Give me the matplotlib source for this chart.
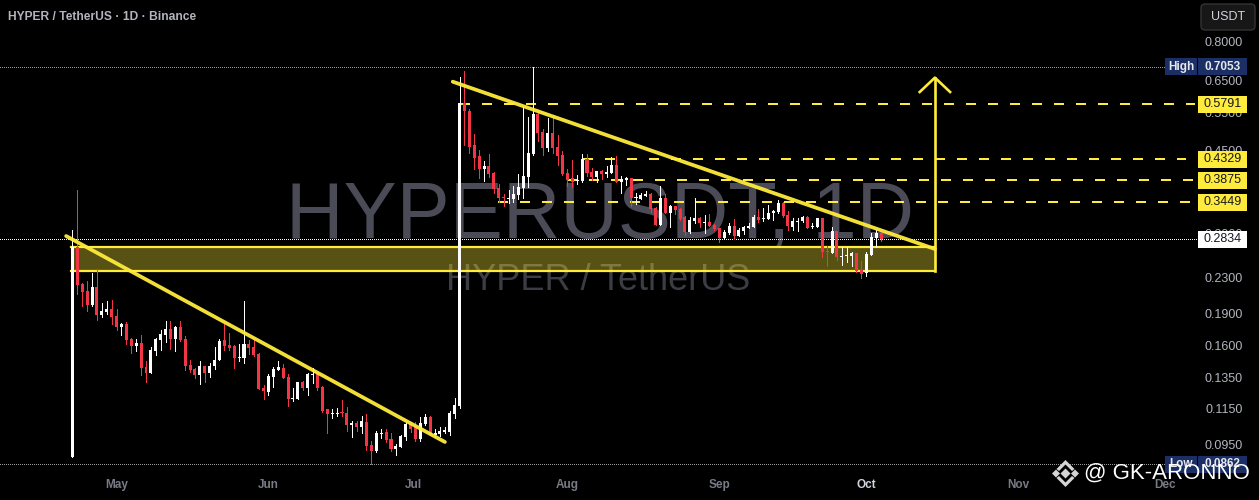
from matplotlib import pyplot as plt
from matplotlib.patches import Rectangle, FancyBboxPatch
from matplotlib.transforms import blended_transform_factory, IdentityTransform
import numpy as np

plt.rcParams['font.family'] = ['Liberation Sans', 'DejaVu Sans']

opens = [
    .0896,.2724,.2236,.2155,.2000,.2204,.1897,.1925,.1959,.1887,
    .1781,.1808,.1672,.1612,.1637,.1441,.1396,.1569,.1663,.1707,
    .1762,.1672,.1781,.1672,.1457,.1426,.1382,.1449,.1396,.1449,
    .1496,.1663,.1620,.1612,.1511,.1511,.1630,.1602,.1544,.1291,
    .1263,.1368,.1419,.1434,.1368,.1217,.1217,.1331,.1291,.1382,
    .1389,.1297,.1154,.1124,.1124,.1136,.1130,.1061,.1072,.1050,
    .1078,.0954,.0924,.1012,.1022,.0985,.0934,.0943,.0996,.1067,
    .1050,.0985,.1067,.1105,.1007,.1012,.1022,.1022,.1124,.1173,
    .5824,.5583,.4663,.4400,.4109,.4174,.4022,.3716,.3544,.3507,
    .3507,.3584,.3716,.3938,.4447,.5495,.4997,.4591,.4970,.4615,
    .4424,.4022,.3918,.3857,.3857,.4332,.4044,.3938,.4065,.4001,
    .4022,.4195,.3836,.3877,.3918,.3525,.3507,.3562,.3603,.3343,
    .3052,.3524,.3250,.3378,.3325,.3185,.2944,.3120,.3170,.3087,
    .3104,.3054,.3005,.2851,.2928,.3040,.2882,.2959,.3005,.3022,
    .3185,.3155,.3155,.3250,.3272,.3431,.3218,.3022,.3109,.3120,
    .3185,.3022,.3022,.3170,.2662,.2634,.2959,.2579,.2592,.2592,
    .2634,.2408,.2373,.2605,.2851,.2928]
highs = [
    .2975,.3676,.2244,.2272,.2369,.2421,.2019,.2044,.2055,.1956,
    .1819,.1829,.1681,.1672,.1707,.1488,.1599,.1678,.1753,.1839,
    .1839,.1790,.1839,.1696,.1496,.1434,.1488,.1449,.1473,.1602,
    .1672,.1808,.1725,.1620,.1630,.2044,.1663,.1663,.1552,.1311,
    .1389,.1441,.1488,.1465,.1389,.1291,.1331,.1339,.1396,.1434,
    .1399,.1304,.1154,.1154,.1160,.1211,.1166,.1083,.1083,.1112,
    .1124,.0975,.1028,.1038,.1038,.1017,.0959,.1007,.1078,.1078,
    .1078,.1105,.1124,.1112,.1038,.1050,.1050,.1142,.1224,.6695,
    .6898,.5633,.4947,.4543,.4287,.4447,.4044,.3803,.3603,.3677,
    .3754,.4001,.5704,.5408,.7053,.5613,.5077,.5378,.5434,.4920,
    .4519,.4109,.4309,.3981,.4447,.4447,.4129,.4065,.4087,.4174,
    .4377,.4400,.3959,.3938,.3918,.3622,.3622,.3658,.3622,.3360,
    .3754,.3598,.3396,.3378,.3343,.3202,.3185,.3524,.3185,.3218,
    .3234,.3070,.3005,.2975,.3087,.3155,.3005,.3040,.3087,.3218,
    .3325,.3343,.3396,.3307,.3487,.3449,.3290,.3170,.3170,.3202,
    .3202,.3087,.3170,.3170,.2732,.3022,.2959,.2714,.2714,.2648,
    .2634,.2526,.2648,.2928,.2975,.2928]
lows = [
    .0896,.2120,.1994,.1942,.1990,.1849,.1877,.1908,.1808,.1753,
    .1707,.1630,.1552,.1569,.1382,.1331,.1396,.1536,.1577,.1645,
    .1585,.1569,.1654,.1419,.1404,.1361,.1318,.1331,.1368,.1426,
    .1496,.1577,.1577,.1434,.1488,.1473,.1544,.1528,.1284,.1217,
    .1243,.1297,.1419,.1361,.1173,.1205,.1217,.1277,.1243,.1325,
    .1277,.1136,.1017,.1100,.1112,.1112,.1028,.0996,.1028,.1017,
    .0929,.0862,.0919,.0990,.0970,.0924,.0904,.0943,.0980,.1022,
    .0975,.0975,.1061,.1007,.0996,.1001,.1017,.1007,.1100,.1160,
    .4663,.4471,.4109,.3918,.3857,.3938,.3622,.3452,.3378,.3434,
    .3452,.3507,.3525,.3735,.4424,.4768,.4424,.4519,.4471,.4195,
    .3981,.3754,.3735,.3803,.3836,.3959,.3877,.3836,.3897,.3938,
    .4022,.3836,.3622,.3774,.3378,.3411,.3507,.3562,.3274,.3052,
    .3052,.3250,.3028,.3234,.3137,.2897,.2928,.3087,.3028,.2928,
    .3040,.2975,.2792,.2851,.2913,.2837,.2882,.2913,.3005,.3022,
    .3104,.3120,.3155,.3137,.3258,.3185,.2975,.2975,.2959,.3104,
    .3005,.3005,.3022,.2579,.2461,.2634,.2539,.2478,.2512,.2465,
    .2383,.2310,.2336,.2605,.2724,.2807]
closes = [
    .2724,.2224,.2147,.2000,.2204,.1897,.1939,.1959,.1877,.1781,
    .1808,.1663,.1612,.1637,.1434,.1396,.1577,.1672,.1716,.1762,
    .1672,.1781,.1660,.1449,.1419,.1382,.1449,.1396,.1449,.1496,
    .1654,.1612,.1594,.1511,.1519,.1630,.1594,.1536,.1284,.1270,
    .1374,.1426,.1441,.1361,.1217,.1224,.1331,.1291,.1389,.1389,
    .1291,.1144,.1124,.1130,.1130,.1130,.1061,.1072,.1050,.1083,
    .0950,.0924,.1017,.1017,.0980,.0934,.0950,.1001,.1067,.1038,
    .0985,.1072,.1105,.1007,.1017,.1028,.1033,.1130,.1176,.5824,
    .5583,.4615,.4354,.4109,.4174,.4001,.3696,.3525,.3525,.3525,
    .3603,.3735,.3959,.4471,.5495,.4970,.4591,.4970,.4591,.4400,
    .4001,.3877,.3836,.3877,.4332,.4022,.3938,.4065,.4001,.4044,
    .4195,.3836,.3897,.3918,.3525,.3544,.3584,.3603,.3326,.3052,
    .3525,.3250,.3378,.3307,.3155,.2944,.3137,.3170,.3087,.3104,
    .3040,.2990,.2851,.2944,.3040,.2882,.2975,.3022,.3040,.3185,
    .3137,.3170,.3258,.3290,.3431,.3202,.3040,.3120,.3126,.3185,
    .3005,.3040,.3170,.2648,.2648,.2959,.2579,.2592,.2605,.2634,
    .2396,.2360,.2620,.2865,.2928,.2834]

# days counted from the first candle (22 Apr)
month_days = [9, 40, 69.5, 101, 132, 162, 193, 223]
month_names = ['May', 'Jun', 'Jul', 'Aug', 'Sep', 'Oct', 'Nov', 'Dec']
axis_prices = [0.8, 0.65, 0.55, 0.45, 0.29, 0.23, 0.19, 0.16, 0.135, 0.115, 0.095]
levels = [0.5791, 0.4329, 0.3875, 0.3449]
level_start = [79, 104.2, 101, 86.8]
level_end = [229, 227.2, 228.7, 228]
high_price = 0.7053
low_price = 0.0862
last_price = 0.2834
zone_low = 0.2394
zone_high = 0.2718
falling_days = [-1.3, 76]
falling_prices = [0.2881, 0.0969]
wedge_days = [77.6, 176]
wedge_prices = [0.6519, 0.2690]
target_price = 0.6660

W, H = 1259, 500
PX_DAY = 4.9
PX_LOG = 189.0
YELLOW = '#FFEB3B'
RED = '#F23645'
GREY = '#B2B5BE'
BLUE = '#1B2F66'


def box(ax, tr, x0, x1, price, color):
    d = np.exp(8.5 / PX_LOG)
    ax.add_patch(Rectangle((x0 / W, price / d), (x1 - x0) / W, price * d - price / d,
                           transform=tr, fc=color, ec='none', zorder=8))


def binance_logo(ax, cx, cy):
    def pts(coords):
        return [(cx + a) / W for a, b in coords], [1 - (cy + b) / H for a, b in coords]
    c = '#D5D5D5'
    kw = dict(transform=ax.transAxes, color=c, lw=0, zorder=11)
    for shape in ([(0, -5), (5, 0), (0, 5), (-5, 0)],
                  [(-13.5, 0), (-9.5, -4), (-5.5, 0), (-9.5, 4)],
                  [(13.5, 0), (9.5, -4), (5.5, 0), (9.5, 4)],
                  [(0, -13.5), (9, -4.5), (6.5, -2.5), (0, -9), (-6.5, -2.5), (-9, -4.5)],
                  [(0, 13.5), (9, 4.5), (6.5, 2.5), (0, 9), (-6.5, 2.5), (-9, 4.5)]):
        xs, ys = pts(shape)
        ax.fill(xs, ys, **kw)


def main():
    fig = plt.figure(figsize=(W / 100, H / 100), dpi=100, facecolor='black')
    ax = fig.add_axes([0, 0, 1, 1])
    ax.set_facecolor('black')
    ax.set_yscale('log')
    ax.set_xlim(-72.5 / PX_DAY, (W - 72.5) / PX_DAY)
    ax.set_ylim(0.8 * np.exp(-457 / PX_LOG), 0.8 * np.exp(43 / PX_LOG))
    ax.axis('off')
    tr = blended_transform_factory(ax.transAxes, ax.transData)

    # watermarks
    ax.text(600 / W, 0.8 * np.exp(-195 / PX_LOG), 'HYPERUSDT, 1D', transform=tr, color='#4A4B57',
            fontsize=57.3, ha='center', va='baseline', zorder=1)
    ax.text(598.5 / W, 0.8 * np.exp(-247 / PX_LOG), 'HYPER / TetherUS', transform=tr, color='#3C3D44',
            fontsize=26, ha='center', va='baseline', zorder=1)

    # zone and its frame
    ax.add_patch(Rectangle((-0.3, zone_low), wedge_days[1] + 0.3, zone_high - zone_low,
                           fc=YELLOW, alpha=0.35, ec='none', zorder=2))
    ax.plot([-0.3, wedge_days[1]], [zone_high, zone_high], color=YELLOW, lw=1.6, zorder=3)
    ax.plot([-0.3, wedge_days[1]], [zone_low, zone_low], color=YELLOW, lw=1.6, zorder=3)

    # dotted price lines
    ax.plot([0, 1165 / W], [high_price, high_price], transform=tr, color='#9A9A9A', lw=0.72,
            dashes=(1, 2), antialiased=False, zorder=2)
    ax.plot([0, 1167 / W], [low_price, low_price], transform=tr, color='#9A9A9A', lw=0.72,
            dashes=(1, 2), antialiased=False, zorder=2)
    ax.plot([0, 1197 / W], [last_price, last_price], transform=tr, color='white', lw=0.72,
            dashes=(1, 2), antialiased=False, zorder=2)

    # dashed levels
    for p, a, b in zip(levels, level_start, level_end):
        ax.plot([a, b], [p, p], color=YELLOW, lw=1.44, dashes=(5, 6), zorder=3)

    # candles
    days = np.arange(len(closes))
    o = np.array(opens)
    c = np.array(closes)
    colors = ['white' if b >= a else RED for a, b in zip(opens, closes)]
    ax.vlines(days, lows, highs, colors=colors, lw=0.72, antialiased=False, zorder=4)
    ax.bar(days, np.abs(c - o), bottom=np.minimum(o, c), width=3 / PX_DAY, color=colors,
           antialiased=False, linewidth=0, zorder=5)

    # trend lines and target arrow
    ax.plot(falling_days, falling_prices, color=YELLOW, lw=2.7, solid_capstyle='round', zorder=6, alpha=0.95)
    ax.plot(wedge_days, wedge_prices, color=YELLOW, lw=2.7, solid_capstyle='round', zorder=6, alpha=0.95)
    ax.plot([wedge_days[1], wedge_days[1]], [zone_low, target_price], color=YELLOW, lw=1.9, zorder=6)
    head = 0.8 * np.exp(-(92 - 43) / PX_LOG)
    ax.plot([wedge_days[1] - 3.1, wedge_days[1], wedge_days[1] + 3.1], [head, target_price, head],
            color=YELLOW, lw=1.9, zorder=6)

    # price axis
    for p in axis_prices:
        ax.text(1224 / W, p, '%.4f' % p, transform=tr, color=GREY, fontsize=9,
                ha='center', va='center', zorder=7)
    for p in levels:
        box(ax, tr, 1198, 1247, p, YELLOW)
        ax.text(1222.5 / W, p, '%.4f' % p, transform=tr, color='#131722', fontsize=9,
                ha='center', va='center', zorder=9)
    box(ax, tr, 1198, 1247, last_price, 'white')
    ax.text(1222.5 / W, last_price, '%.4f' % last_price, transform=tr, color='#131722', fontsize=9,
            ha='center', va='center', zorder=9)
    for p, name in ((high_price, 'High'), (low_price, 'Low')):
        box(ax, tr, 1165, 1197, p, BLUE)
        box(ax, tr, 1198, 1247, p, BLUE)
        ax.text(1181 / W, p, name, transform=tr, color='#E8E8E8', fontsize=8.5, fontweight='bold',
                ha='center', va='center', zorder=9)
        ax.text(1222.5 / W, p, '%.4f' % p, transform=tr, color='#E8E8E8', fontsize=8.5,
                fontweight='bold', ha='center', va='center', zorder=9)

    # month labels
    for d, name in zip(month_days, month_names):
        col = '#D1D4DC' if name == 'Oct' else '#787B86'
        ax.text(d, 1 - 485 / H, name, transform=ax.get_xaxis_transform(), color=col, fontsize=8.5,
                fontweight='bold', ha='center', va='center', zorder=7)

    # header and unit button
    ax.text(8 / W, 1 - 16.5 / H, 'HYPER / TetherUS · 1D · Binance', transform=ax.transAxes,
            color=GREY, fontsize=8.65, fontweight='bold', ha='left', va='center', zorder=7)
    ax.add_patch(FancyBboxPatch((1201, H - 30), 54, 26, boxstyle='round,pad=0,rounding_size=4',
                                transform=IdentityTransform(), fc='#171717', ec='#333333', lw=1,
                                clip_on=False, zorder=6))
    ax.text(1228 / W, 1 - 17 / H, 'USDT', transform=ax.transAxes, color='#D1D4DC', fontsize=9,
            ha='center', va='center', zorder=7)

    # repost credit
    binance_logo(ax, 1065.5, 473.5)
    ax.text(1084 / W, 1 - 473.5 / H, '@ GK-ARONNO', transform=ax.transAxes, color='white', fontsize=16,
            ha='left', va='center', zorder=11)

    fig.savefig('out.png', dpi=100, facecolor='black')


if __name__ == '__main__':
    main()
